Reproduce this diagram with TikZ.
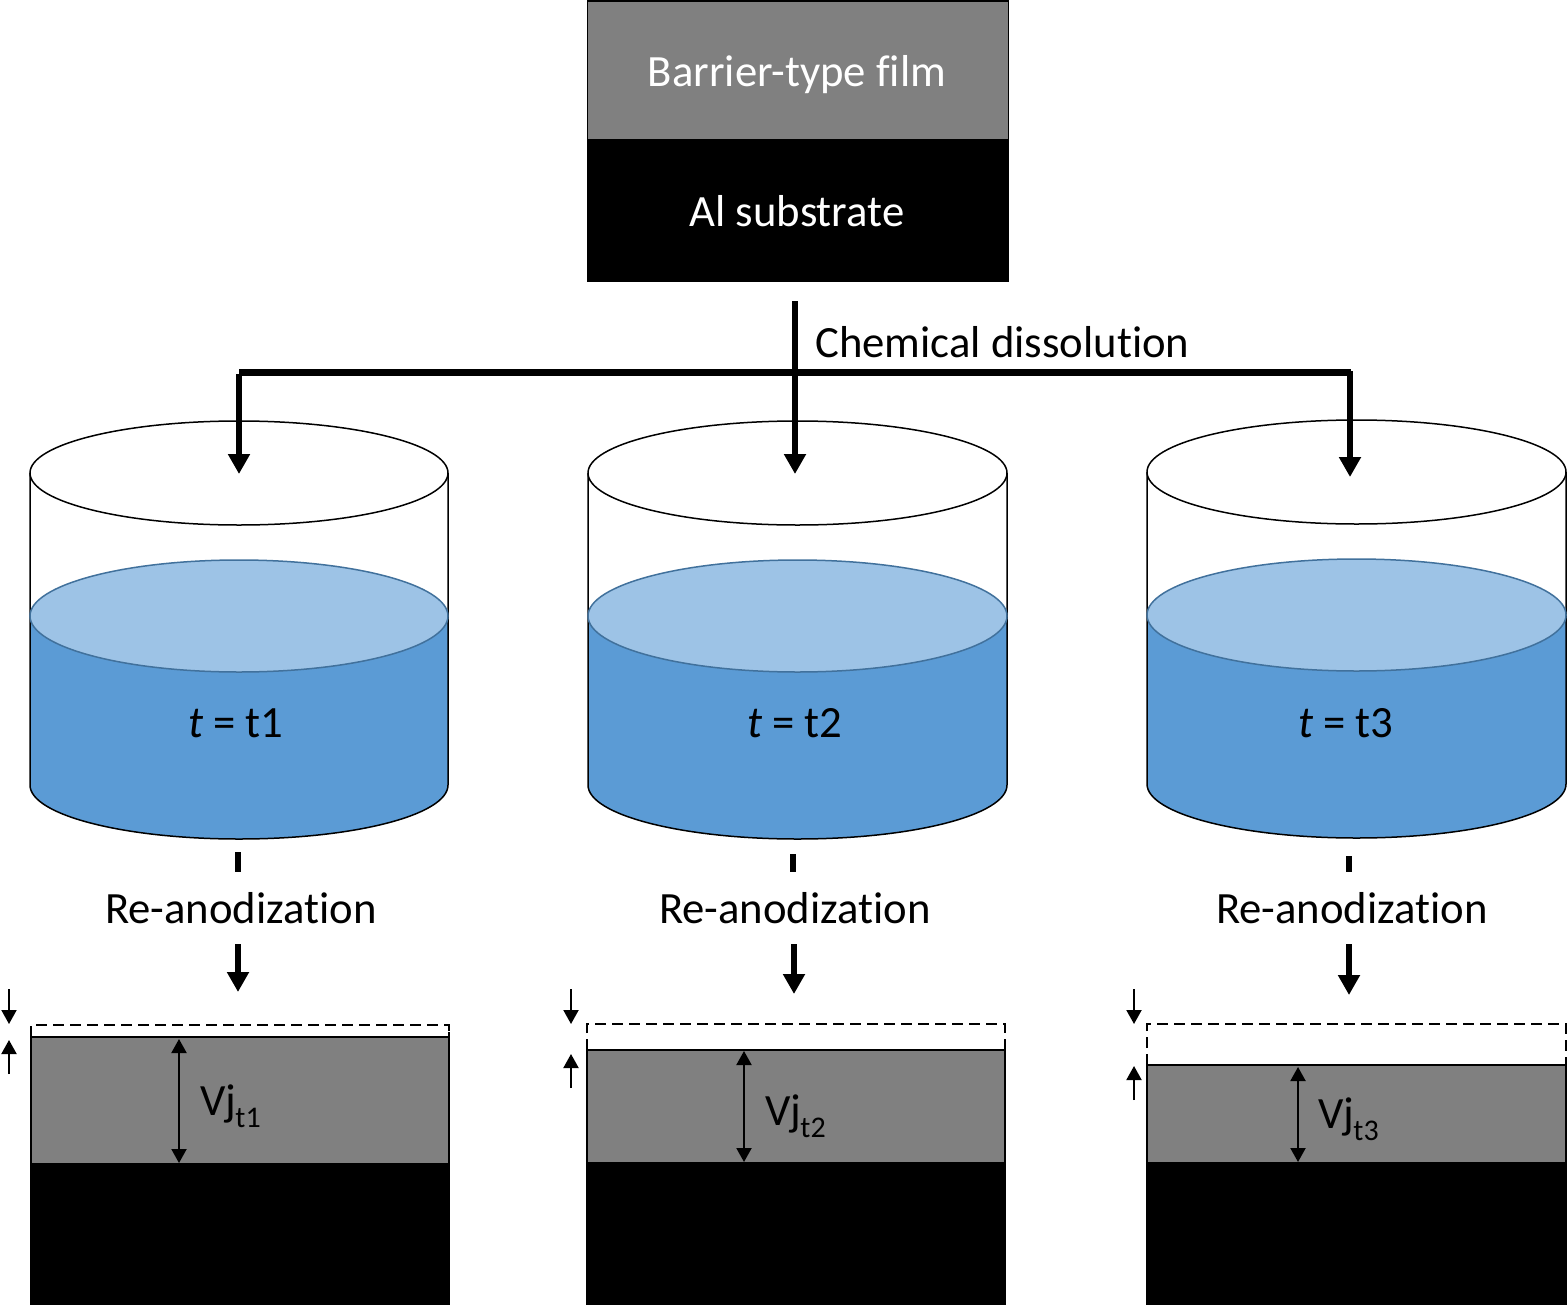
\documentclass[tikz,border=0pt]{standalone}
\usepackage{fontspec}
\setmainfont[Ligatures=NoCommon]{Carlito}
\usetikzlibrary{arrows.meta}
\definecolor{filmgray}{HTML}{808080}
\definecolor{waterbody}{HTML}{5B9BD5}
\definecolor{watertop}{HTML}{9DC3E6}
\definecolor{waterline}{HTML}{41719C}
\tikzset{
  x=0.5pt,y=-0.5pt,
  fatline/.style={line width=3.3pt,draw=black},
  fatarrow/.style={line width=3.3pt,draw=black,-{Triangle[length=10pt,width=10.5pt]}},
  thinarrow/.style={line width=1pt,draw=black,-{Triangle[length=7pt,width=7.5pt]}},
  dimarrow/.style={line width=1pt,draw=black,{Triangle[length=7pt,width=7.5pt]}-{Triangle[length=7pt,width=7.5pt]}},
  outline/.style={line width=0.75pt,draw=black},
  label/.style={font=\fontsize{22.35}{26}\selectfont,text=black,inner sep=0pt},
  whitelabel/.style={label,text=white},
  plain/.style={inner sep=0pt,outer sep=0pt,anchor=north west},
}
% #1 left #2 right #3 top ellipse y #4 water y #5 bottom y
\newcommand{\drawtank}[5]{%
  \pgfmathsetmacro{\tcx}{(#1+#2)/2}\pgfmathsetmacro{\trx}{(#2-#1)/2*0.5}%
  \fill[waterbody] (#1,#4) -- (#1,#5) arc[start angle=180,end angle=360,x radius=\trx pt,y radius=27pt] -- (#2,#4) -- cycle;
  \draw[outline] (#1,#3) -- (#1,#5) arc[start angle=180,end angle=360,x radius=\trx pt,y radius=27pt] -- (#2,#3);
  \draw[line width=0.75pt,draw=black,fill=white] (\tcx,#3) ellipse[x radius=\trx pt,y radius=26pt];
  \draw[line width=0.75pt,draw=waterline,fill=watertop] (\tcx,#4) ellipse[x radius=\trx pt,y radius=28pt];
}
% #1 left #2 right #3 dashed y #4 film top #5 film bottom #6 page bottom
\newcommand{\drawsample}[6]{%
  \draw[line width=0.85pt,draw=black,dash pattern=on 5.5pt off 3pt] (#1,#4) -- (#1,#3) -- (#2,#3) -- (#2,#4);
  \fill[black] (#1-1,#5) rectangle (#2+1,#6);
  \draw[line width=0.85pt,draw=black,fill=filmgray] (#1,#5) -- (#1,#4) -- (#2,#4) -- (#2,#5);
  \draw[line width=0.85pt,draw=black] (#1,#4-5) -- (#1,#4) (#2,#4-5) -- (#2,#4);
}
\newcommand{\subt}[1]{\kern-0.5pt\raisebox{-0.27em}{\fontsize{15}{18}\selectfont #1}}
\begin{document}
\begin{tikzpicture}
\useasboundingbox (0,0) rectangle (1568,1306);
\fill[white] (0,0) rectangle (1568,1306);

% top sample
\node[plain,fill=filmgray,draw=black,line width=0.6pt,minimum width=210.5pt,minimum height=69.5pt] (film) at (587.5,1) {};
\node[plain,fill=black,minimum width=211pt,minimum height=71pt] (substrate) at (587,139.5) {};
\node[whitelabel] (filmtext) at (797,75) {Barrier-type film};
\node[whitelabel] (subtext) at (797,211) {Al substrate};

% tanks
\drawtank{30}{448}{473}{616}{785}
\drawtank{588}{1007}{473}{616}{785}
\drawtank{1147}{1566}{472}{615}{784}

% feed connectors
\coordinate (feedtop) at (795,301);
\coordinate (barL) at (239,372.5);
\coordinate (barR) at (1351,372.5);
\coordinate (tipA) at (239,474);
\coordinate (tipB) at (795,474);
\coordinate (tipC) at (1350,477);
\draw[fatarrow] (feedtop) -- (tipB);
\draw[fatarrow] ([yshift=-0.75pt]barL) -- (tipA);
\draw[fatarrow] ([yshift=0.75pt]barR -| tipC) -- (tipC);
\draw[fatline] (barL) -- (barR);
\node[label,anchor=base west] (chem) at (815,357.5) {Chemical dissolution};

% t labels
\node[label] (tA) at (236,723) {\textit{t} = t1};
\node[label] (tB) at (795,723) {\textit{t} = t2};
\node[label] (tC) at (1346,723) {\textit{t} = t3};

% re-anodization
\node[label] (reA) at (241,908) {Re-anodization};
\node[label] (reB) at (795,908) {Re-anodization};
\node[label] (reC) at (1352,908) {Re-anodization};
\coordinate (dA1) at (238,852); \coordinate (dA2) at (238,872);
\coordinate (dB1) at (793,854); \coordinate (dB2) at (793,872);
\coordinate (dC1) at (1349,856); \coordinate (dC2) at (1349,872);
\draw[fatline] (dA1) -- (dA2);
\draw[fatline] (dB1) -- (dB2);
\draw[fatline] (dC1) -- (dC2);
\coordinate (aA1) at (238,944); \coordinate (aA2) at (238,992);
\coordinate (aB1) at (794,944); \coordinate (aB2) at (794,994);
\coordinate (aC1) at (1349,944); \coordinate (aC2) at (1349,995);
\draw[fatarrow] (aA1) -- (aA2);
\draw[fatarrow] (aB1) -- (aB2);
\draw[fatarrow] (aC1) -- (aC2);

% samples
\drawsample{31}{449}{1025}{1037}{1163}{1305}
\drawsample{587}{1005}{1024}{1050}{1162}{1305}
\drawsample{1147}{1566}{1024}{1065}{1162}{1305}

% small arrows
\coordinate (sA1) at (9,989); \coordinate (sA2) at (9,1024);
\coordinate (sA3) at (9,1074); \coordinate (sA4) at (9,1040);
\coordinate (sB1) at (571,989); \coordinate (sB2) at (571,1024);
\coordinate (sB3) at (571,1088); \coordinate (sB4) at (571,1054);
\coordinate (sC1) at (1134,989); \coordinate (sC2) at (1134,1024);
\coordinate (sC3) at (1134,1100); \coordinate (sC4) at (1134,1066);
\draw[thinarrow] (sA1) -- (sA2);
\draw[thinarrow] (sA3) -- (sA4);
\draw[thinarrow] (sB1) -- (sB2);
\draw[thinarrow] (sB3) -- (sB4);
\draw[thinarrow] (sC1) -- (sC2);
\draw[thinarrow] (sC3) -- (sC4);

% thickness arrows
\coordinate (vA1) at (179,1039); \coordinate (vA2) at (179,1163);
\coordinate (vB1) at (744,1051); \coordinate (vB2) at (744,1162);
\coordinate (vC1) at (1298,1067); \coordinate (vC2) at (1298,1162);
\draw[dimarrow] (vA1) -- (vA2);
\draw[dimarrow] (vB1) -- (vB2);
\draw[dimarrow] (vC1) -- (vC2);
\node[label,anchor=base west] (vjA) at (200,1115) {Vj\subt{t1}};
\node[label,anchor=base west] (vjB) at (765,1125) {Vj\subt{t2}};
\node[label,anchor=base west] (vjC) at (1318,1128) {Vj\subt{t3}};
\end{tikzpicture}
\end{document}
